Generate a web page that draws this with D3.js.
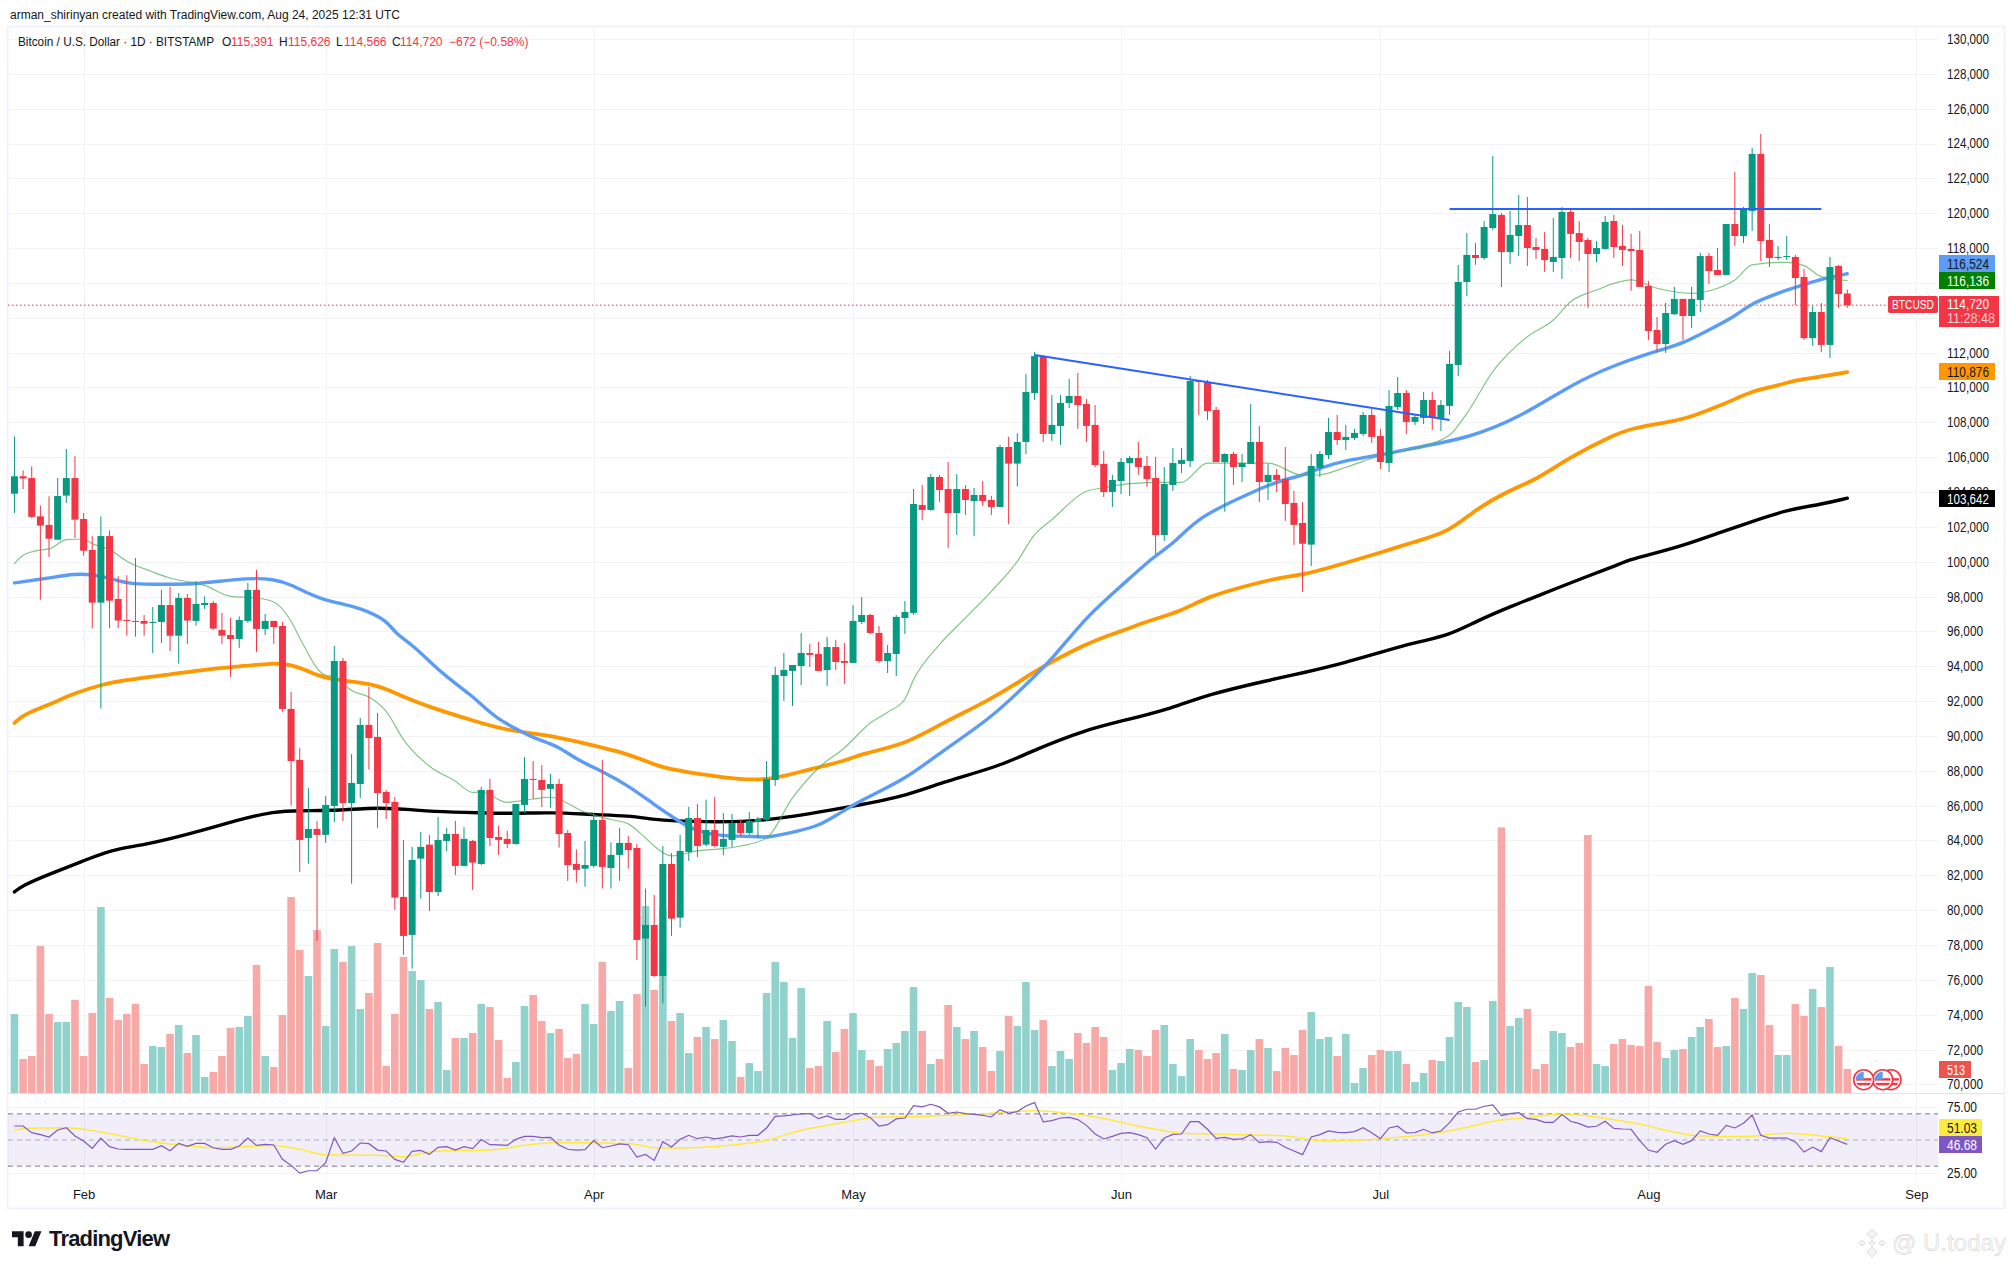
<!DOCTYPE html>
<html>
<head>
<meta charset="utf-8">
<title>BTCUSD</title>
<script src="https://cdn.jsdelivr.net/npm/d3@7"></script>
<style>
    html, body { margin: 0; padding: 0; background: #fff; }
    svg { display: block; }
    text { font-family: "Liberation Sans", Arial, sans-serif; fill: #131722; }
    .axis .domain, .axis line { display: none; }
</style>
</head>
<body>
<svg id="chart" width="2014" height="1269"></svg>
<script>
//Contains the whole chart in one function.
(function () {

    //First candle is Jan 24 2025, one candle per day. Prices are in thousands of USD.
    var firstDay = new Date(Date.UTC(2025, 0, 24));
    var feb1 = new Date(Date.UTC(2025, 1, 1));

    var opens = [
        103.90,104.90,104.80,102.60,102.11,101.26,103.79,104.80,102.45,100.67,
        97.65,101.47,97.86,96.65,96.60,96.60,96.50,96.54,97.51,95.75,
        97.92,96.60,97.51,97.63,96.08,95.79,95.56,96.60,98.38,96.14,
        96.60,96.31,91.55,88.62,84.14,84.66,84.32,85.98,94.30,86.15,
        87.24,90.63,89.94,86.78,86.21,80.76,78.58,82.96,83.76,81.04,
        83.97,84.37,82.54,83.97,82.65,86.90,84.20,84.09,83.80,86.04,
        87.53,87.47,86.96,87.24,84.43,82.65,82.38,82.54,85.18,82.42,
        83.17,83.86,83.57,78.37,79.15,76.22,82.65,79.57,83.34,85.29,
        83.76,84.60,83.63,84.03,85.00,84.43,85.06,85.18,87.47,93.44,
        93.73,94.01,94.76,94.70,93.78,95.10,94.30,94.19,96.54,96.94,
        95.91,94.30,94.70,96.77,97.06,103.25,102.97,104.86,104.17,102.79,
        104.17,103.48,103.83,103.54,103.14,106.58,105.63,106.87,109.68,111.80,
        107.33,107.79,109.11,109.51,109.05,107.85,105.61,104.00,104.63,105.66,
        105.95,105.49,104.80,101.53,104.40,105.61,105.78,110.37,110.31,108.71,
        105.72,106.18,105.43,105.61,106.87,104.57,104.98,104.74,103.37,102.22,
        100.98,105.38,106.12,107.44,106.98,107.10,107.33,108.42,107.21,105.66,
        108.88,109.68,108.02,108.25,109.28,108.25,108.94,111.29,116.05,117.60,
        117.43,119.15,119.90,117.77,118.69,119.32,118.06,117.95,117.20,117.43,
        120.07,118.86,118.46,117.66,117.95,119.55,118.12,117.95,117.89,115.82,
        113.30,112.49,114.20,115.08,114.10,115.02,117.54,116.74,116.45,119.38,
        118.69,120.13,123.40,118.46,117.43,117.49,117.49,116.34,112.83,114.33,
        112.44,116.97,115.391
    ];

    var highs = [
        107.19,105.24,105.47,103.23,103.75,104.80,106.47,106.05,102.79,101.46,
        102.60,101.80,99.16,99.22,100.21,96.94,97.40,98.39,98.55,98.20,
        98.15,98.87,98.01,97.74,97.06,96.77,96.86,98.78,99.52,97.00,
        96.60,96.54,92.52,89.31,87.01,85.12,86.55,95.16,94.47,88.96,
        91.03,92.81,91.32,86.90,86.50,84.03,83.63,84.49,84.32,85.35,
        84.72,85.12,84.77,84.03,87.07,87.53,84.83,84.55,86.09,88.79,
        88.56,88.33,87.82,87.53,84.60,83.49,83.97,85.58,88.62,83.89,
        84.72,84.26,83.80,81.24,80.87,83.68,83.28,84.32,85.92,86.09,
        86.34,86.50,85.58,85.52,85.20,85.63,85.35,88.56,93.96,94.76,
        94.07,95.91,95.28,95.39,95.68,95.51,95.33,97.51,97.97,97.00,
        96.31,95.22,96.94,97.74,104.17,104.40,105.03,104.98,105.72,105.03,
        104.40,104.23,104.63,103.77,106.70,107.17,107.37,110.77,112.03,111.86,
        109.57,109.57,110.49,110.83,109.34,108.99,106.35,104.98,105.95,106.07,
        106.87,106.07,106.01,105.43,106.52,106.52,110.66,110.43,110.43,108.88,
        106.22,106.30,106.18,109.05,107.79,105.61,105.32,106.58,104.06,103.42,
        106.18,106.35,108.25,108.42,107.85,107.62,108.59,108.76,107.62,109.85,
        110.60,109.85,108.48,109.74,109.74,109.28,112.09,117.03,118.86,118.29,
        119.55,123.28,120.01,120.13,121.04,120.93,118.58,118.92,119.72,120.36,
        120.24,119.55,118.58,118.40,119.84,119.90,119.32,118.81,118.98,116.11,
        114.04,114.85,115.77,115.08,115.77,117.72,117.72,118.00,119.38,122.37,
        120.36,123.74,124.55,119.38,118.12,118.69,117.60,116.80,114.67,114.85,
        117.49,117.03,115.626
    ];

    var lows = [
        102.79,104.17,102.51,97.82,100.27,101.26,103.37,101.36,100.35,96.19,
        91.57,96.19,96.19,95.75,95.70,95.75,94.76,95.33,94.87,94.15,
        95.28,96.33,97.29,96.08,95.28,93.38,95.05,96.48,94.82,95.79,
        95.28,91.39,86.00,82.19,82.67,78.23,83.86,85.06,85.12,81.52,
        86.44,88.07,84.72,85.23,80.01,77.43,76.64,80.66,79.95,80.81,
        83.38,82.02,82.50,81.16,82.59,83.68,83.17,83.57,83.76,85.58,
        86.38,85.92,85.87,83.59,81.68,81.58,81.35,82.44,81.24,81.24,
        81.68,82.38,77.14,74.46,76.17,74.65,78.52,79.00,82.82,83.05,
        83.66,83.63,83.15,83.63,84.24,84.32,84.14,85.12,87.13,92.01,
        91.72,92.92,93.96,93.73,92.87,93.78,92.98,94.19,96.42,95.85,
        94.19,93.61,93.44,95.85,96.94,102.39,102.91,103.43,100.79,101.53,
        102.68,101.47,103.20,102.68,103.14,102.16,104.31,106.18,109.28,106.87,
        106.93,106.70,108.82,107.62,106.87,105.43,103.71,103.14,103.88,103.77,
        104.98,104.29,100.44,101.19,104.06,105.09,105.43,108.42,108.13,105.72,
        102.87,104.40,104.57,105.61,103.42,103.54,104.00,102.34,100.96,98.26,
        99.75,104.86,105.89,106.70,106.41,106.98,107.21,106.81,105.32,105.15,
        108.71,107.33,107.85,107.90,107.56,107.50,108.42,110.66,115.25,117.03,
        117.31,119.03,115.76,117.09,117.54,116.97,117.37,116.63,116.63,116.22,
        117.43,117.26,114.56,117.20,117.89,117.43,116.97,115.54,115.77,112.72,
        112.03,111.98,114.16,112.72,113.41,114.33,115.94,116.45,116.45,118.12,
        118.29,118.98,117.26,116.91,117.31,117.31,114.73,112.72,112.38,112.03,
        111.69,114.56,114.566
    ];

    var closes = [
        104.90,104.77,102.57,102.07,101.32,103.77,104.80,102.41,100.63,97.65,
        101.47,97.76,96.62,96.60,96.56,96.44,96.54,97.51,95.75,97.92,
        96.62,97.57,97.63,96.16,95.75,95.56,96.65,98.38,96.14,96.60,
        96.25,91.55,88.56,84.03,84.66,84.32,86.04,94.30,86.15,87.30,
        90.63,89.88,86.72,86.15,80.72,78.52,82.88,83.63,81.04,84.03,
        84.37,82.54,84.09,82.73,86.90,84.14,84.03,83.80,86.09,87.53,
        87.47,86.90,87.24,84.37,82.59,82.31,82.59,85.18,82.48,83.17,
        83.86,83.45,78.29,79.15,76.22,82.65,79.51,83.40,85.29,83.68,
        84.60,83.68,84.09,85.00,84.43,85.12,85.23,87.53,93.50,93.78,
        94.07,94.76,94.65,93.73,95.10,94.24,94.19,96.60,96.94,95.91,
        94.30,94.76,96.83,97.11,103.31,102.97,104.86,104.11,102.79,104.17,
        103.54,103.83,103.48,103.14,106.58,105.63,106.87,109.74,111.80,107.33,
        107.85,109.11,109.51,108.99,107.79,105.55,104.00,104.69,105.72,105.95,
        105.43,104.74,101.53,104.46,105.66,105.83,110.37,110.31,108.65,105.72,
        106.18,105.43,105.66,106.87,104.57,104.98,104.69,103.31,102.11,101.03,
        105.49,106.18,107.44,106.98,107.16,107.39,108.42,107.16,105.72,108.94,
        109.68,108.02,108.30,109.28,108.25,108.99,111.35,116.05,117.60,117.43,
        119.21,119.95,117.77,118.75,119.32,118.00,117.89,117.31,117.49,120.07,
        118.81,118.35,117.66,118.00,119.50,118.06,117.89,117.83,115.77,113.24,
        112.49,114.27,115.08,114.10,115.08,117.54,116.68,116.45,119.38,118.69,
        120.24,123.40,118.40,117.43,117.49,117.54,116.28,112.83,114.33,112.44,
        116.91,115.36,114.720
    ];

    var volumes = [
        1689,727,791,3142,1689,1518,1518,1988,791,1710,
        3976,2031,1560,1689,1902,620,1005,983,1261,1454,
        855,1240,342,449,791,1389,1411,1646,2736,791,
        556,1667,4190,3057,2501,3484,1432,3078,2800,3142,
        1796,2138,3206,577,1689,2907,2608,2415,1796,1945,
        492,1176,1176,1283,1902,1838,1133,321,663,1860,
        2095,1539,1283,1368,748,834,1902,1475,2800,1753,
        1967,534,2116,3997,2202,3933,1539,1710,855,1197,
        1411,1154,1560,1112,342,641,470,2138,2800,2373,
        1176,2244,534,577,1539,876,1368,1710,919,705,
        577,941,1069,1325,2266,1325,620,727,1881,1411,
        1154,1325,983,470,898,1646,1432,2373,1347,1560,
        577,898,727,1283,1069,1411,1197,492,641,941,
        919,791,1347,1454,620,363,1154,919,727,855,
        1261,513,492,919,1154,962,470,962,812,1347,
        1731,1154,1197,791,1261,214,534,812,919,898,
        898,620,235,428,705,684,1197,1945,1838,663,
        705,1967,5679,1432,1603,1796,513,620,1325,1283,
        983,1069,5515,620,577,1047,1154,1026,1005,2287,
        1090,748,919,941,1197,1411,1582,983,1005,2031,
        1796,2565,2522,1454,812,812,1902,1646,2223,1838,
        2693,1005,513
    ];

    var rsiValues = [
        60.7,60.7,55.6,54.1,52.3,57.7,59.4,53.1,49.2,43.6,
        51.5,44.9,43.1,42.9,42.9,42.9,42.9,45.7,41.8,47.4,
        45.2,47.4,47.4,44.1,42.9,42.9,45.4,51.5,45.9,46.7,
        46.2,35.2,30.6,24.7,26.5,26.5,32.7,51.8,39.8,41.6,
        47.7,47.2,42.3,41.6,35.2,32.9,41.3,42.1,39.0,44.4,
        44.9,42.3,44.9,43.4,50.3,46.4,46.2,45.9,50.5,52.8,
        52.8,51.8,52.0,46.2,42.9,42.3,42.6,49.5,44.1,45.4,
        47.0,46.4,37.0,39.0,34.4,48.7,44.6,
        50.5,53.6,51.0,52.3,50.8,51.8,53.1,52.3,53.6,53.6,
        59.2,68.1,68.4,69.1,69.9,70.2,66.3,68.4,65.8,65.8,
        69.9,70.4,67.1,60.7,61.7,66.1,66.8,76.3,75.3,77.3,
        75.3,70.4,71.4,70.2,69.6,68.9,67.6,73.2,70.4,71.7,
        76.0,78.6,63.8,64.8,66.8,67.3,65.6,61.2,54.6,50.8,
        52.8,55.1,55.6,54.1,51.8,43.1,51.5,54.3,54.6,64.0,
        64.0,58.2,51.3,52.0,50.5,50.8,54.1,48.0,48.7,48.2,
        44.4,41.6,38.8,52.3,54.1,56.9,55.9,55.6,
        56.4,59.4,55.6,51.0,59.2,60.5,55.4,55.6,58.2,55.4,
        56.9,63.3,71.4,73.5,73.5,75.8,76.8,68.6,70.2,70.9,
        66.3,65.8,63.5,63.5,69.4,64.3,62.5,59.9,60.5,64.3,
        58.9,58.4,58.2,49.5,42.3,40.6,46.7,49.5,46.7,49.5,
        56.9,54.6,53.6,61.2,59.2,62.8,69.1,53.6,51.5,51.5,
        51.5,48.5,40.8,44.6,41.1,51.8,49.2,46.68
    ];

    //Moving averages, read at the listed days (days counted from Feb 1).
    var ma50Days = [-8,-4,-1,1,3,5,8,12,15,19,22,24,26,28,30,32,35,36,38,40,42,45,46,48,50,52,55,57,60,63,66,68,70,73,78,79,83,85,87,90,95,99,105,109,112,116,120,124,126,129,135,138,141,143,146,150,155,160,166,172,177,183,185,188,191,193,197,200,202,204];
    var ma50Values = [98.78,99.06,99.31,99.26,99.06,98.74,98.70,98.70,98.83,99.06,99.01,98.68,98.17,97.78,97.57,97.34,96.67,95.91,95.24,94.28,93.38,92.27,91.79,90.93,90.42,89.88,89.40,88.64,87.97,87.15,86.06,85.39,84.72,84.24,84.24,84.14,84.58,84.85,85.42,86.34,87.49,89.02,91.03,92.94,94.38,96.86,98.59,100.40,100.98,102.60,103.94,104.61,104.94,105.38,105.82,106.12,106.64,107.08,108.23,110.14,111.29,112.25,112.53,113.30,114.06,114.87,115.59,116.07,116.32,116.524];

    var ma100Days = [-8,-7,-4,-1,2,5,10,14,18,22,24,26,28,31,33,35,37,40,45,49,54,58,63,66,68,74,79,83,88,90,95,99,105,108,110,116,120,123,127,130,135,139,141,146,150,154,158,161,165,168,172,177,179,184,186,189,191,193,196,198,201,204];
    var ma100Values = [90.74,91.22,91.79,92.46,92.94,93.23,93.52,93.80,93.99,94.19,94.09,93.71,93.29,93.13,93.00,92.71,92.23,91.66,90.88,90.30,90.04,89.56,88.98,88.35,88.06,87.59,87.40,87.97,88.54,88.98,89.50,90.65,92.12,93.04,93.71,95.33,96.00,96.58,97.15,98.01,98.68,99.16,99.22,99.93,100.52,101.15,101.72,103.01,104.12,104.69,106.03,107.27,107.65,108.07,108.32,108.90,109.32,109.80,110.10,110.43,110.62,110.876];

    var ma200Days = [-8,-7,-4,0,3,7,12,18,22,25,30,33,35,38,40,46,50,54,59,63,66,68,73,79,88,95,99,106,110,116,120,126,130,137,141,146,150,154,158,161,165,169,173,177,179,181,185,189,193,197,201,204];
    var ma200Values = [81.05,81.43,82.06,82.82,83.45,83.74,84.33,85.20,85.67,85.71,85.73,85.85,85.85,85.77,85.67,85.58,85.54,85.62,85.48,85.42,85.20,85.12,85.06,85.10,85.87,86.53,87.30,88.26,89.21,90.36,90.84,91.60,92.37,93.19,93.61,94.21,94.80,95.36,95.79,96.56,97.42,98.19,98.99,99.72,100.14,100.39,100.92,101.63,102.30,102.97,103.29,103.642];

    var ma20Days = [-8,-7,-5,-4,-2,0,1,3,5,8,10,14,17,20,22,24,25,28,29,31,33,35,37,40,43,45,46,49,52,54,58,61,63,65,66,68,71,74,76,79,82,85,88,91,93,95,96,99,102,105,108,110,112,116,118,121,125,127,130,137,141,143,146,149,154,158,160,163,167,170,172,175,179,182,186,189,191,193,196,197,199,201,204];
    var ma20Values = [99.89,100.37,100.67,100.73,101.26,101.30,101.03,100.69,100.02,99.41,99.06,98.64,98.01,97.92,97.69,96.58,95.62,93.48,93.42,92.60,92.23,91.41,89.79,88.26,87.40,86.76,86.78,86.19,86.38,86.48,85.62,85.20,84.95,84.14,83.68,83.11,83.40,83.53,83.68,84.14,86.44,88.16,89.31,90.74,91.36,92.12,93.23,95.24,96.77,98.30,100.02,101.55,102.41,104.04,104.23,104.48,104.55,104.55,105.66,105.66,104.96,104.99,105.42,105.93,106.51,107.27,108.51,110.91,112.91,113.87,114.92,115.59,116.17,115.69,115.40,115.69,116.17,117.03,117.18,117.18,116.99,116.36,116.136];

    var rsiMaDays = [-8,-7,-4,-2,2,7,11,15,20,22,25,28,34,37,41,47,51,55,63,66,68,78,83,90,91,98,103,110,115,124,127,133,139,143,146,150,158,164,167,171,179,187,192,197,201,204];
    var rsiMaValues = [56.9,58.7,59.2,59.4,56.1,49.7,46.2,44.1,45.4,45.7,42.9,38.8,38.3,37.2,41.6,42.3,45.9,48.0,47.4,44.1,43.9,48.5,57.4,65.8,67.1,68.4,69.6,72.4,69.6,58.2,55.1,54.3,53.1,49.5,49.7,51.0,56.9,65.3,67.3,69.9,63.3,53.1,52.6,55.1,53.1,51.03];

    //Hand drawn trend lines: [day, price] ends.
    var trendDays = [[110, 158], [158, 201]];
    var trendPrices = [[111.86, 108.13], [120.24, 120.24]];

    //Labels on the price axis.
    var priceTicks = d3.range(70, 131, 2);
    var rsiTicks = [25, 75];
    var legendText = [
        { x: 18, text: "Bitcoin / U.S. Dollar · 1D · BITSTAMP", red: false, len: 196 },
        { x: 222, text: "O", red: false }, { x: 231, text: "115,391", red: true },
        { x: 279, text: "H", red: false }, { x: 288, text: "115,626", red: true },
        { x: 336, text: "L", red: false }, { x: 344, text: "114,566", red: true },
        { x: 392, text: "C", red: false }, { x: 400, text: "114,720", red: true },
        { x: 449, text: "−672 (−0.58%)", red: true }
    ];

    var upColor = "#089981",
        downColor = "#f23645",
        gridColor = "#f2f3f5",
        frameColor = "#f0f3fa",
        axisFontSize = 14;

    var svg = d3.select("#chart");

    //Edges of the panes.
    var paneLeft = 8, paneRight = 1938, paneTop = 27,
        mainBottom = 1093, rsiBottom = 1180, frameBottom = 1208, frameRight = 2004;

    var x = d3.scaleUtc()
        .domain([feb1, new Date(Date.UTC(2025, 8, 1))])
        .range([83.6, 1916.4]);

    var y = d3.scaleLinear()
        .domain([82, 124])
        .range([875.3, 143.5]);

    var yVolume = d3.scaleLinear()
        .domain([0, 5000])
        .range([mainBottom, mainBottom - 233.9]);

    var yRsi = d3.scaleLinear()
        .domain([25, 75])
        .range([1172.7, 1107.3]);

    function candleX(i) {
        return x(d3.utcDay.offset(firstDay, i));
    }

    function dayX(d) {
        return x(d3.utcDay.offset(feb1, d));
    }

    //The labels in the picture are narrow, 6 px per character.
    function narrowLabel(selection) {
        selection
            .attr("font-size", axisFontSize)
            .attr("lengthAdjust", "spacingAndGlyphs")
            .attr("textLength", function () { return this.textContent.length * 6; });
    }

    var indexes = d3.range(opens.length);

    //Frame around the chart.
    svg.append("rect")
        .attr("x", paneLeft - 0.5)
        .attr("y", paneTop - 0.5)
        .attr("width", frameRight - paneLeft + 1)
        .attr("height", frameBottom - paneTop + 1)
        .attr("fill", "#fff")
        .attr("stroke", frameColor)
        .attr("stroke-width", 2);

    svg.append("defs").append("clipPath")
        .attr("id", "mainClip")
        .append("rect")
        .attr("x", paneLeft)
        .attr("y", paneTop)
        .attr("width", paneRight - paneLeft)
        .attr("height", mainBottom - paneTop);

    //Grid lines.
    svg.append("g").selectAll("line")
        .data(priceTicks)
        .enter()
        .append("line")
        .attr("x1", paneLeft)
        .attr("x2", paneRight)
        .attr("y1", function (d) { return Math.round(y(d)) + 0.5; })
        .attr("y2", function (d) { return Math.round(y(d)) + 0.5; })
        .attr("stroke", gridColor);

    svg.append("g").selectAll("line")
        .data(rsiTicks)
        .enter()
        .append("line")
        .attr("x1", paneLeft)
        .attr("x2", paneRight)
        .attr("y1", function (d) { return Math.round(yRsi(d)) + 0.5; })
        .attr("y2", function (d) { return Math.round(yRsi(d)) + 0.5; })
        .attr("stroke", gridColor);

    svg.append("g").selectAll("line")
        .data(x.ticks(d3.utcMonth))
        .enter()
        .append("line")
        .attr("x1", function (d) { return Math.round(x(d)) + 0.5; })
        .attr("x2", function (d) { return Math.round(x(d)) + 0.5; })
        .attr("y1", paneTop)
        .attr("y2", rsiBottom)
        .attr("stroke", gridColor);

    //Separator between the main pane and the RSI pane.
    svg.append("line")
        .attr("x1", paneLeft)
        .attr("x2", frameRight)
        .attr("y1", mainBottom + 0.5)
        .attr("y2", mainBottom + 0.5)
        .attr("stroke", "#e0e3eb");

    var main = svg.append("g").attr("clip-path", "url(#mainClip)");

    //Volume bars behind the candles.
    main.append("g").selectAll("rect")
        .data(indexes)
        .enter()
        .append("rect")
        .attr("x", function (i) { return candleX(i) - 3.8; })
        .attr("width", 7.6)
        .attr("y", function (i) { return yVolume(volumes[i]); })
        .attr("height", function (i) { return mainBottom - yVolume(volumes[i]); })
        .attr("fill", function (i) { return closes[i] >= opens[i] ? "#92d2cc" : "#f7a9a7"; });

    //Last price line.
    main.append("line")
        .attr("x1", paneLeft)
        .attr("x2", paneRight)
        .attr("y1", y(closes[closes.length - 1]))
        .attr("y2", y(closes[closes.length - 1]))
        .attr("stroke", downColor)
        .attr("stroke-dasharray", "1.5 2.5");

    //Draws one moving average.
    function drawAverage(days, values, color, width, opacity, curve) {
        var line = d3.line()
            .x(function (d) { return dayX(d); })
            .y(function (d, i) { return y(values[i]); })
            .curve(curve);

        main.append("path")
            .datum(days)
            .attr("d", line)
            .attr("fill", "none")
            .attr("stroke", color)
            .attr("stroke-width", width)
            .attr("stroke-opacity", opacity)
            .attr("stroke-linecap", "round");
    }

    drawAverage(ma200Days, ma200Values, "#000000", 3.4, 1, d3.curveBasis);
    drawAverage(ma100Days, ma100Values, "#ff9800", 3.8, 1, d3.curveBasis);
    drawAverage(ma50Days, ma50Values, "#5b9cf6", 3.4, 1, d3.curveBasis);
    drawAverage(ma20Days, ma20Values, "#4caf50", 1.2, 0.7, d3.curveMonotoneX);

    //Candle wicks and bodies.
    main.append("g").selectAll("line")
        .data(indexes)
        .enter()
        .append("line")
        .attr("x1", function (i) { return candleX(i); })
        .attr("x2", function (i) { return candleX(i); })
        .attr("y1", function (i) { return y(highs[i]); })
        .attr("y2", function (i) { return y(lows[i]); })
        .attr("stroke", function (i) { return closes[i] >= opens[i] ? upColor : downColor; })
        .attr("stroke-width", 1);

    main.append("g").selectAll("rect")
        .data(indexes)
        .enter()
        .append("rect")
        .attr("x", function (i) { return candleX(i) - 3.5; })
        .attr("width", 7)
        .attr("y", function (i) { return y(Math.max(opens[i], closes[i])); })
        .attr("height", function (i) { return Math.max(1, Math.abs(y(opens[i]) - y(closes[i]))); })
        .attr("fill", function (i) { return closes[i] >= opens[i] ? upColor : downColor; });

    //Trend lines.
    main.append("g").selectAll("line")
        .data(trendDays)
        .enter()
        .append("line")
        .attr("x1", function (d) { return dayX(d[0]); })
        .attr("x2", function (d) { return dayX(d[1]); })
        .attr("y1", function (d, i) { return y(trendPrices[i][0]); })
        .attr("y2", function (d, i) { return y(trendPrices[i][1]); })
        .attr("stroke", "#2962ff")
        .attr("stroke-width", 2);

    //RSI band and dashed levels.
    svg.append("rect")
        .attr("x", paneLeft)
        .attr("width", paneRight - paneLeft)
        .attr("y", yRsi(70))
        .attr("height", yRsi(30) - yRsi(70))
        .attr("fill", "#7e57c2")
        .attr("fill-opacity", 0.1);

    svg.append("g").selectAll("line")
        .data([70, 50, 30])
        .enter()
        .append("line")
        .attr("x1", paneLeft)
        .attr("x2", paneRight)
        .attr("y1", function (d) { return yRsi(d); })
        .attr("y2", function (d) { return yRsi(d); })
        .attr("stroke", "#787b86")
        .attr("stroke-opacity", function (d) { return d === 50 ? 0.55 : 1; })
        .attr("stroke-dasharray", "5 4");

    var rsiMaLine = d3.line()
        .x(function (d) { return dayX(d); })
        .y(function (d, i) { return yRsi(rsiMaValues[i]); })
        .curve(d3.curveMonotoneX);

    svg.append("path")
        .datum(rsiMaDays)
        .attr("d", rsiMaLine)
        .attr("fill", "none")
        .attr("stroke", "#ffe93b")
        .attr("stroke-width", 1.5);

    var rsiLine = d3.line()
        .x(function (d, i) { return candleX(i); })
        .y(function (d) { return yRsi(d); });

    svg.append("path")
        .datum(rsiValues)
        .attr("d", rsiLine)
        .attr("fill", "none")
        .attr("stroke", "#7e57c2")
        .attr("stroke-width", 1.2);

    //Axes.
    svg.append("g")
        .attr("class", "axis")
        .attr("transform", "translate(1947,0)")
        .call(d3.axisRight(y).tickValues(priceTicks).tickSize(0).tickPadding(0)
            .tickFormat(function (d) { return d3.format(",")(d * 1000); }))
        .call(styleAxis);

    svg.append("g")
        .attr("class", "axis")
        .attr("transform", "translate(1947,0)")
        .call(d3.axisRight(yRsi).tickValues(rsiTicks).tickSize(0).tickPadding(0)
            .tickFormat(d3.format(".2f")))
        .call(styleAxis);

    svg.append("g")
        .attr("class", "axis")
        .attr("transform", "translate(0,1190)")
        .call(d3.axisBottom(x).ticks(d3.utcMonth).tickSize(0).tickPadding(0)
            .tickFormat(d3.utcFormat("%b")))
        .call(function (g) {
            g.selectAll("text").attr("font-size", 13);
        });

    function styleAxis(g) {
        g.selectAll("text").call(narrowLabel);
    }

    //Boxes on the price axis.
    function priceBox(boxX, boxY, w, h, color, label, textColor) {
        svg.append("rect")
            .attr("x", boxX)
            .attr("y", boxY)
            .attr("width", w)
            .attr("height", h)
            .attr("fill", color);
        svg.append("text")
            .attr("x", 1947)
            .attr("y", boxY + h / 2 + 5)
            .style("fill", textColor)
            .text(label)
            .call(narrowLabel);
    }

    priceBox(1939, 255, 56, 17, "#5b9cf6", d3.format(",")(116524), "#131722");
    priceBox(1939, 272, 56, 17, "#008000", d3.format(",")(116136), "#ffffff");
    priceBox(1939, 363, 56, 17, "#ff9800", d3.format(",")(110876), "#131722");
    priceBox(1939, 490, 56, 17, "#000000", d3.format(",")(103642), "#ffffff");
    priceBox(1939, 1061, 32, 17, "#ef5350", "513", "#ffffff");
    priceBox(1939, 1119, 43, 17, "#ffeb3b", "51.03", "#131722");
    priceBox(1939, 1136, 43, 17, "#7e57c2", "46.68", "#ffffff");

    //Last price box with the countdown.
    svg.append("rect")
        .attr("x", 1939).attr("y", 296).attr("width", 60).attr("height", 31)
        .attr("fill", downColor);
    svg.append("text").attr("x", 1947).attr("y", 309).style("fill", "#fff").text("114,720").call(narrowLabel);
    svg.append("text").attr("x", 1947).attr("y", 323).style("fill", "#ffd0d4").text("11:28:48").call(narrowLabel);

    svg.append("rect")
        .attr("x", 1888).attr("y", 296).attr("width", 50).attr("height", 17)
        .attr("rx", 2).attr("fill", downColor);
    svg.append("text")
        .attr("x", 1892).attr("y", 309).attr("font-size", 12)
        .attr("textLength", 42).attr("lengthAdjust", "spacingAndGlyphs")
        .style("fill", "#fff")
        .text("BTCUSD");

    //Event flags, drawn from the back to the front.
    var flagCentres = [1891, 1882.7, 1863.7];
    var flags = svg.append("g").selectAll("g")
        .data(flagCentres)
        .enter()
        .append("g")
        .attr("transform", function (d) { return "translate(" + d + ",1079.7)"; });

    flags.append("circle").attr("r", 10).attr("fill", "#fff").attr("stroke", downColor).attr("stroke-width", 1.6);
    flags.append("clipPath")
        .attr("id", function (d, i) { return "flagClip" + i; })
        .append("circle").attr("r", 8);
    var flagBody = flags.append("g")
        .attr("clip-path", function (d, i) { return "url(#flagClip" + i + ")"; });
    flagBody.append("rect").attr("x", -8).attr("y", -1.5).attr("width", 16).attr("height", 2.4).attr("fill", downColor);
    flagBody.append("rect").attr("x", -8).attr("y", 3.2).attr("width", 16).attr("height", 2.4).attr("fill", downColor);
    flagBody.append("rect").attr("x", -8).attr("y", -8).attr("width", 8).attr("height", 8).attr("fill", "#5b9cf6");

    //Header texts.
    svg.append("text")
        .attr("x", 10)
        .attr("y", 19)
        .attr("font-size", 12)
        .text("arman_shirinyan created with TradingView.com, Aug 24, 2025 12:31 UTC");

    svg.append("g").selectAll("text")
        .data(legendText)
        .enter()
        .append("text")
        .attr("x", function (d) { return d.x; })
        .attr("y", 46)
        .attr("font-size", 12)
        .attr("textLength", function (d) { return d.len || null; })
        .attr("lengthAdjust", "spacingAndGlyphs")
        .style("fill", function (d) { return d.red ? downColor : "#131722"; })
        .text(function (d) { return d.text; });

    //TradingView logo.
    var logo = svg.append("g").attr("transform", "translate(12,1228) scale(0.83)");
    logo.append("path").attr("d", "M14 22H7V11H0V4h14v18zM28 22h-8l7.5-18h8L28 22z").attr("fill", "#131722");
    logo.append("circle").attr("cx", 20).attr("cy", 8).attr("r", 4).attr("fill", "#131722");
    svg.append("text")
        .attr("x", 49)
        .attr("y", 1246)
        .attr("font-size", 22)
        .attr("font-weight", "bold")
        .attr("textLength", 121)
        .text("TradingView");

    //U.today watermark.
    var mark = svg.append("g").attr("transform", "translate(1872,1243)");
    [[0, -9, 5], [-10, 0, 3], [10, 0, 3], [0, 0, 3], [0, 9, 5]].forEach(function (d) {
        mark.append("path")
            .attr("d", "M" + d[0] + " " + (d[1] - d[2]) + "l" + d[2] + " " + d[2] + "l" + (-d[2]) + " " + d[2] + "l" + (-d[2]) + " " + (-d[2]) + "z")
            .attr("fill", "#f4f4f4")
            .attr("stroke", "#dcdcdc");
    });
    svg.append("text")
        .attr("x", 1892)
        .attr("y", 1251)
        .attr("font-size", 24)
        .attr("textLength", 114)
        .style("fill", "#f8f8f8")
        .style("stroke", "#d4d4d4")
        .style("stroke-width", 0.5)
        .text("@ U.today");

})();
</script>
</body>
</html>
